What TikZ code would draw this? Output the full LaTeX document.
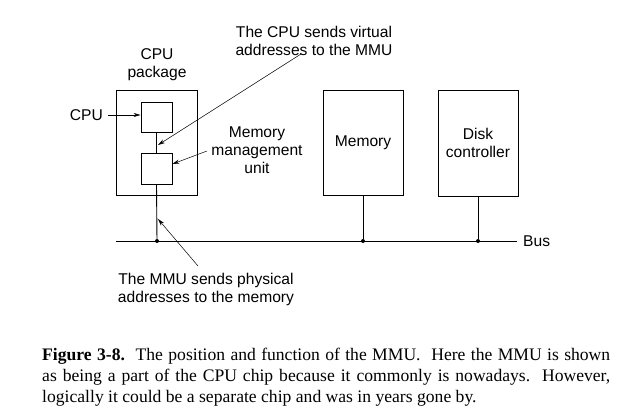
\documentclass[tikz,border=0pt]{standalone}
\usetikzlibrary{arrows.meta}
\usepackage{fontspec}
\setmainfont{Liberation Serif}
\newfontfamily\lsans{Liberation Sans}
\begin{document}
\begin{tikzpicture}[x=1pt,y=-1pt,
  box/.style={draw,line width=0.9pt,inner sep=0pt,minimum width=#1},
  lbl/.style={font=\lsans\fontsize{15.6}{18}\selectfont,align=center,inner sep=0pt},
  captxt/.style={font=\fontsize{17.6}{21}\selectfont,anchor=base west,inner sep=0pt},
  ar/.style={-{Stealth[length=7pt,width=4pt]},line width=0.5pt},
  ln/.style={line width=0.9pt},
  dot/.style={circle,fill,inner sep=0pt,minimum size=4pt}]
\useasboundingbox (0,0) rectangle (620,419);
\node[box=81pt,minimum height=105pt] (pkg) at (156.5,142.5) {};
\node[box=31pt,minimum height=30pt] (cpu) at (156.5,117) {};
\node[box=31pt,minimum height=31pt] (mmu) at (156.5,168.5) {};
\node[box=80pt,minimum height=105pt,lbl] (mem) at (363,142.5) {Memory};
\node[box=80pt,minimum height=106pt,lbl] (disk) at (478,143) {Disk\\controller};
\coordinate (bl) at (116,241);
\coordinate (br) at (517,241);
\node[dot] (d1) at (157,241) {};
\node[dot] (d2) at (363,241) {};
\node[dot] (d3) at (478,241) {};
\draw[ln] (bl) -- (br);
\node[lbl,anchor=west] (bus) at (523,241) {Bus};
\draw[ln] (cpu.south) -- (mmu.north);
\draw[ln] (mmu.south) -- (d1);
\draw[ln] (mem.south) -- (d2);
\draw[ln] (disk.south) -- (d3);
\node[lbl] (pkgl) at (157,65) {CPU\\package};
\node[lbl,anchor=east] (cpul) at (103,115) {CPU};
\draw[ar] (cpul.east) ++(5,0) -- (cpu.west |- cpul.east);
\node[lbl] (virt) at (314,41) {The CPU sends virtual\\addresses to the MMU};
\coordinate (v1) at (301,54);
\coordinate (v2) at (158,145);
\draw[ar] (v1) -- (v2);
\node[lbl] (mmul) at (257,150) {Memory\\management\\unit};
\coordinate (m1) at (207,151);
\draw[ar] (m1) -- (mmu.east |- 0,164);
\node[lbl] (phys) at (206,289) {The MMU sends physical\\addresses to the memory};
\coordinate (p1) at (198,266);
\coordinate (p2) at (158,219);
\draw[ar] (p1) -- (p2);
\node[captxt] (c1) at (42,360) {\hbox to 568pt{\textbf{Figure 3-8.}\ \ The position and function of the MMU.\ \ Here the MMU is shown}};
\node[captxt] (c2) at (42,381) {\hbox to 568pt{as being a part of the CPU chip because it commonly is nowadays.\ \ However,}};
\node[captxt] (c3) at (42,402) {logically it could be a separate chip and was in years gone by.};
\end{tikzpicture}
\end{document}
